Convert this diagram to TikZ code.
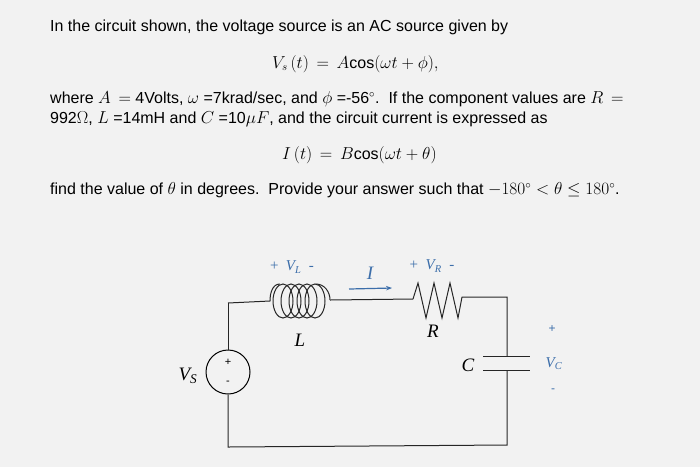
\documentclass[tikz,border=0pt]{standalone}
\usepackage{fontspec}
\setmainfont{Liberation Sans}
\newfontfamily\serifit{Liberation Serif}
\usepackage{amsmath}
\usetikzlibrary{arrows.meta}
\definecolor{lblue}{RGB}{60,110,170}
\begin{document}
\begin{tikzpicture}[x=1pt,y=-1pt,
  wire/.style={line width=1pt,black!85},
  lbl/.style={font=\fontsize{16}{18}\selectfont, anchor=west, inner sep=0pt},
  blue/.style={text=lblue},
  mathlbl/.style={font=\fontsize{19}{20}\selectfont\serifit\itshape, inner sep=0pt}]
\fill[gray!10] (0,0) rectangle (700,467);
\useasboundingbox (0,0) rectangle (700,467);
\node[lbl] (t1) at (50,27) {In the circuit shown, the voltage source is an AC source given by};
\node[lbl] (t2) at (272,64) {$V_s\,(t)\, =\, A\mathrm{cos}(\omega t + \phi),$};
\node[lbl] (t3) at (50,99) {where $A\, =$ 4Volts, $\omega$ =7krad/sec, and $\phi$ =-56$^\circ$.\ \ If the component values are $R\,=$};
\node[lbl] (t4) at (50,119) {992$\Omega$, $L$ =14mH and $C$ =10$\mu F$, and the circuit current is expressed as};
\node[lbl] (t5) at (282,155) {$I\,(t)\, =\, B\mathrm{cos}(\omega t + \theta)$};
\node[lbl] (t6) at (50,190) {find the value of $\theta$ in degrees.\ \ Provide your answer such that $-180^\circ < \theta \le 180^\circ$.};
% circuit
\coordinate (tl) at (228,303);
\coordinate (bl) at (228,447);
\coordinate (tr) at (507,297);
\coordinate (br) at (507,445);
\node[draw,circle,line width=1pt,minimum size=44pt,inner sep=0pt] (vs) at (228,372) {};
\node[font=\fontsize{11}{11}\selectfont] (vsp) at (228,362) {+};
\node[font=\fontsize{11}{11}\selectfont] (vsm) at (228,383) {-};
\coordinate (la) at (270,301);
\coordinate (lb) at (330,300);
\coordinate (ra) at (413,299);
\coordinate (rb) at (462,297);
\coordinate (ca) at (507,356);
\coordinate (cb) at (507,370);
\draw[wire] (tl) -- (la) to[out=90,in=180] (280,284);
\foreach \i in {0,...,4}{
  \draw[wire] (283+\i*8,301) ellipse (10 and 17);
}
\draw[wire] (316,284) to[out=0,in=90] (lb);
\draw[wire] (vs.north) -- (tl);
\draw[wire] (lb) -- (ra);
\draw[wire] (ra) -- (418,283) -- (426,318) -- (434,283) -- (442,318) -- (450,283) -- (458,318) -- (rb) -- (tr) -- (ca);
\draw[wire] (483,356) -- (530,356);
\draw[wire] (483,370) -- (530,370);
\draw[wire] (cb) -- (br) -- (bl) -- (vs.south);
% labels
\node[mathlbl] (L) at (300,340) {L};
\node[mathlbl] (R) at (433,331) {R};
\node[mathlbl] (C) at (468,365) {C};
\node[mathlbl] (Vs) at (188,376) {V\textsubscript{S}};
\node[mathlbl,blue,font=\fontsize{15}{15}\selectfont\serifit] (VL) at (292,267) {+\ \ \itshape V\textsubscript{L}\ \ \upshape -};
\node[mathlbl,blue,font=\fontsize{15}{15}\selectfont\serifit] (VR) at (432,266) {+\ \ \itshape V\textsubscript{R}\ \ \upshape -};
\node[mathlbl,blue] (I) at (370,273) {I};
\draw[lblue,line width=1.2pt,-{Stealth[length=6pt]}] (349,289) -- (392,288);
\node[blue,font=\fontsize{12}{12}\selectfont] (cp) at (552,329) {+};
\node[mathlbl,blue,font=\fontsize{15}{15}\selectfont\serifit\itshape] (VC) at (554,364) {V\textsubscript{C}};
\node[blue,font=\fontsize{12}{12}\selectfont] (cm) at (553,391) {-};
\end{tikzpicture}
\end{document}
